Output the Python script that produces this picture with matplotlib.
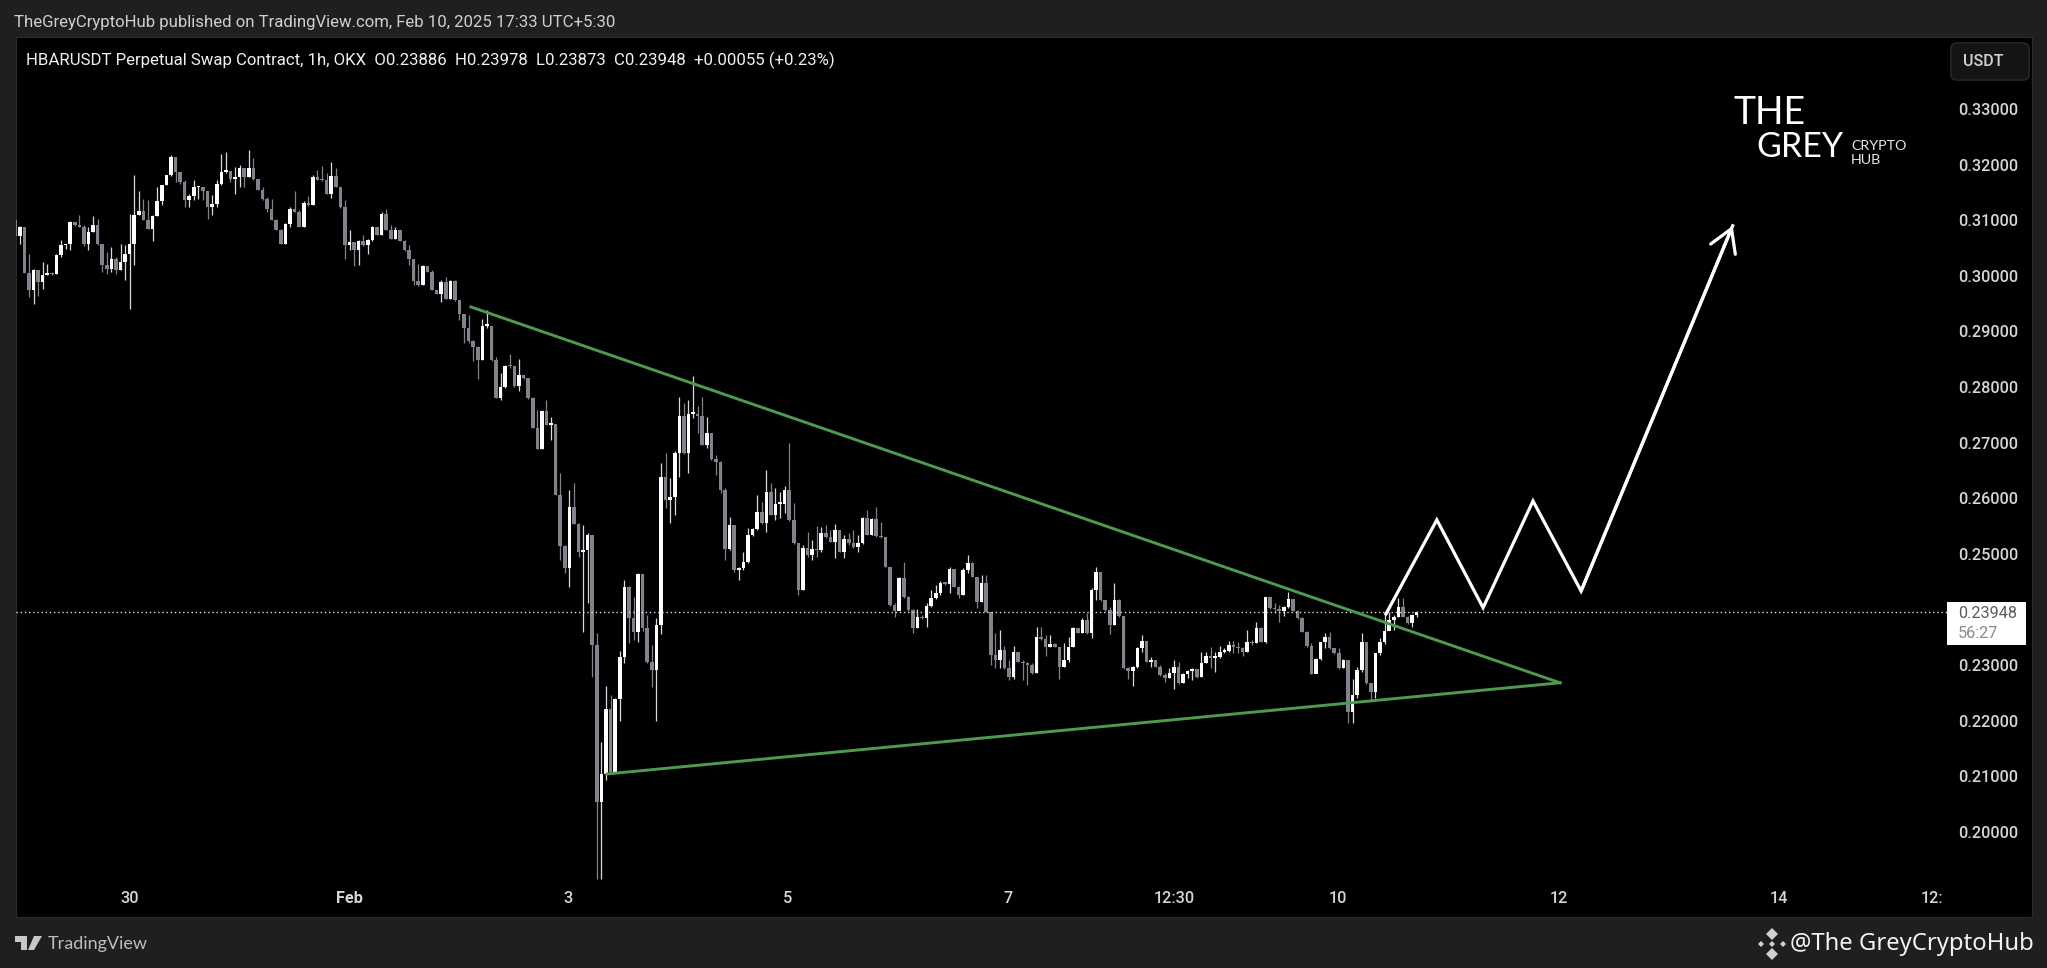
import matplotlib
matplotlib.use('Agg')
import matplotlib.pyplot as plt
import numpy as np
from matplotlib.patches import FancyBboxPatch, Polygon

plt.rcParams['font.family'] = ['Roboto', 'DejaVu Sans']

W, H = 2047, 968

# hourly candles, prices in USDT
first_open = 0.3100
closes = [
.3072,.3088,.3005,.2974,.3010,.2989,.3002,.3005,.3003,.3037,.3055,.3057,.3097,.3091,.3088,.3058,.3079,.3091,.3058,.3019,
.3013,.3031,.3010,.3024,.3039,.3057,.3110,.3116,.3101,.3085,.3108,.3135,.3163,.3181,.3213,.3187,.3169,.3137,.3144,.3159,
.3159,.3152,.3123,.3129,.3165,.3187,.3189,.3175,.3177,.3193,.3177,.3193,.3174,.3155,.3139,.3121,.3101,.3083,.3058,.3094,
.3121,.3115,.3088,.3131,.3127,.3177,.3173,.3172,.3148,.3179,.3160,.3123,.3055,.3061,.3046,.3063,.3055,.3064,.3088,.3074,
.3112,.3083,.3067,.3082,.3063,.3046,.3030,.2991,.2983,.3017,.3007,.2975,.2968,.2989,.2959,.2991,.2956,.2931,.2906,.2882,
.2872,.2849,.2910,.2910,.2849,.2781,.2800,.2838,.2837,.2801,.2822,.2816,.2780,.2727,.2689,.2757,.2732,.2733,.2606,.2514,
.2475,.2585,.2554,.2504,.2507,.2533,.2336,.2054,.2104,.2220,.2108,.2238,.2314,.2440,.2384,.2360,.2464,.2366,.2306,.2291,
.2372,.2639,.2597,.2603,.2682,.2748,.2681,.2752,.2752,.2747,.2696,.2717,.2670,.2665,.2615,.2508,.2552,.2471,.2475,.2486,
.2534,.2544,.2575,.2555,.2612,.2570,.2590,.2590,.2615,.2560,.2519,.2434,.2510,.2498,.2508,.2507,.2538,.2530,.2522,.2542,
.2504,.2526,.2519,.2512,.2519,.2564,.2534,.2562,.2532,.2530,.2477,.2408,.2398,.2456,.2422,.2399,.2366,.2386,.2384,.2406,
.2420,.2429,.2447,.2446,.2472,.2441,.2426,.2471,.2483,.2459,.2414,.2447,.2396,.2318,.2309,.2327,.2294,.2279,.2323,.2306,
.2303,.2300,.2285,.2350,.2346,.2333,.2338,.2333,.2297,.2309,.2333,.2366,.2358,.2381,.2357,.2435,.2468,.2417,.2399,.2372,
.2417,.2388,.2294,.2290,.2297,.2330,.2344,.2306,.2309,.2297,.2282,.2276,.2286,.2297,.2267,.2284,.2290,.2292,.2278,.2304,
.2316,.2313,.2314,.2324,.2326,.2336,.2333,.2330,.2324,.2342,.2339,.2366,.2342,.2422,.2402,.2400,.2398,.2404,.2418,.2398,
.2384,.2360,.2334,.2284,.2310,.2341,.2350,.2330,.2321,.2294,.2309,.2216,.2246,.2291,.2342,.2267,.2252,.2321,.2342,.2362,
.2381,.2387,.2404,.2387,.2375,.2390,.2395]
highs = [
.3118,.3089,.3088,.3040,.3013,.3010,.3025,.3022,.3007,.3039,.3065,.3058,.3098,.3097,.3109,.3091,.3088,.3107,.3103,.3058,
.3043,.3051,.3034,.3058,.3055,.3112,.3181,.3153,.3139,.3136,.3109,.3160,.3164,.3182,.3217,.3211,.3185,.3172,.3148,.3172,
.3161,.3160,.3152,.3145,.3172,.3219,.3223,.3189,.3196,.3200,.3194,.3227,.3211,.3174,.3160,.3142,.3139,.3103,.3085,.3095,
.3124,.3152,.3118,.3135,.3144,.3181,.3190,.3197,.3184,.3204,.3193,.3160,.3136,.3083,.3061,.3064,.3073,.3067,.3089,.3085,
.3115,.3121,.3091,.3088,.3083,.3064,.3055,.3031,.3022,.3019,.3017,.3010,.2975,.2992,.2998,.2993,.2992,.2956,.2932,.2930,
.2884,.2874,.2922,.2939,.2910,.2854,.2826,.2840,.2859,.2838,.2851,.2822,.2816,.2782,.2759,.2759,.2776,.2746,.2734,.2646,
.2516,.2615,.2627,.2555,.2552,.2537,.2533,.2358,.2162,.2262,.2246,.2240,.2326,.2453,.2442,.2422,.2466,.2464,.2390,.2336,
.2384,.2663,.2682,.2637,.2684,.2782,.2771,.2777,.2819,.2766,.2782,.2746,.2717,.2678,.2667,.2618,.2567,.2552,.2477,.2504,
.2546,.2546,.2606,.2594,.2651,.2627,.2618,.2612,.2622,.2699,.2591,.2520,.2516,.2540,.2525,.2550,.2549,.2552,.2543,.2554,
.2542,.2534,.2537,.2543,.2534,.2567,.2578,.2564,.2584,.2558,.2530,.2477,.2411,.2459,.2486,.2424,.2400,.2400,.2390,.2411,
.2434,.2443,.2451,.2448,.2477,.2471,.2442,.2474,.2498,.2486,.2459,.2462,.2462,.2396,.2357,.2363,.2334,.2309,.2334,.2324,
.2309,.2306,.2303,.2369,.2369,.2354,.2354,.2339,.2333,.2339,.2351,.2368,.2366,.2384,.2393,.2438,.2477,.2468,.2417,.2405,
.2447,.2418,.2388,.2296,.2298,.2333,.2354,.2344,.2315,.2309,.2300,.2286,.2294,.2309,.2306,.2285,.2291,.2294,.2292,.2324,
.2324,.2332,.2324,.2334,.2330,.2344,.2344,.2342,.2333,.2363,.2345,.2378,.2368,.2423,.2422,.2411,.2408,.2406,.2432,.2418,
.2399,.2386,.2361,.2340,.2312,.2342,.2357,.2360,.2330,.2330,.2310,.2309,.2274,.2297,.2357,.2342,.2267,.2322,.2348,.2393,
.2396,.2390,.2420,.2420,.2388,.2392,.2398]
lows = [
.3070,.3058,.3005,.2962,.2950,.2964,.2977,.3001,.3002,.3003,.3034,.3049,.3046,.3089,.3087,.3054,.3047,.3079,.3055,.3007,
.3004,.3007,.3004,.3010,.2992,.2941,.3019,.3109,.3100,.3084,.3062,.3107,.3127,.3163,.3180,.3169,.3166,.3123,.3123,.3137,
.3139,.3137,.3103,.3109,.3123,.3163,.3184,.3169,.3148,.3160,.3160,.3177,.3172,.3154,.3137,.3115,.3100,.3082,.3057,.3058,
.3088,.3114,.3087,.3088,.3125,.3127,.3172,.3171,.3147,.3140,.3159,.3122,.3031,.3047,.3017,.3019,.3054,.3039,.3063,.3073,
.3073,.3082,.3066,.3067,.3062,.3045,.3019,.2983,.2982,.2983,.3006,.2974,.2967,.2953,.2958,.2959,.2955,.2920,.2880,.2880,
.2846,.2815,.2849,.2906,.2846,.2780,.2777,.2798,.2834,.2800,.2792,.2814,.2778,.2726,.2688,.2689,.2731,.2705,.2605,.2488,
.2465,.2440,.2553,.2494,.2360,.2412,.2279,.1916,.1916,.2093,.2105,.2106,.2200,.2303,.2339,.2345,.2342,.2362,.2304,.2261,
.2200,.2356,.2582,.2555,.2570,.2639,.2680,.2646,.2744,.2717,.2695,.2690,.2669,.2642,.2609,.2489,.2507,.2468,.2453,.2471,
.2483,.2532,.2543,.2554,.2540,.2569,.2561,.2564,.2573,.2559,.2518,.2426,.2434,.2495,.2489,.2495,.2504,.2528,.2521,.2492,
.2503,.2492,.2516,.2510,.2504,.2518,.2533,.2533,.2531,.2528,.2476,.2407,.2387,.2399,.2421,.2398,.2357,.2366,.2382,.2369,
.2405,.2418,.2426,.2443,.2429,.2440,.2420,.2426,.2466,.2458,.2402,.2414,.2395,.2300,.2294,.2294,.2293,.2273,.2274,.2305,
.2273,.2264,.2284,.2285,.2345,.2316,.2332,.2332,.2274,.2297,.2306,.2332,.2357,.2358,.2356,.2348,.2417,.2416,.2398,.2356,
.2372,.2387,.2293,.2274,.2262,.2294,.2324,.2305,.2297,.2296,.2281,.2270,.2276,.2256,.2266,.2267,.2276,.2273,.2277,.2278,
.2303,.2294,.2288,.2312,.2322,.2324,.2322,.2322,.2316,.2324,.2336,.2339,.2341,.2340,.2401,.2393,.2378,.2388,.2402,.2397,
.2383,.2359,.2333,.2283,.2286,.2309,.2330,.2329,.2320,.2293,.2294,.2195,.2195,.2240,.2288,.2266,.2237,.2240,.2318,.2338,
.2363,.2363,.2386,.2386,.2374,.2368,.2387]

last_price = 0.23948
price_ticks = [0.20, 0.21, 0.22, 0.23, 0.24, 0.25, 0.26, 0.27, 0.28, 0.29, 0.30, 0.31, 0.32, 0.33]
hidden_price_ticks = [0.24]
date_ticks = [25, 73, 120.6, 168.6, 216.7, 253, 288.7, 337, 385, 418.5]
date_labels = ['30', 'Feb', '3', '5', '7', '12:30', '10', '12', '14', '12:']

# drawings: hour index, price
upper_x, upper_y = [99.5, 337.3], [0.2944, 0.2268]
lower_x, lower_y = [129.2, 337.3], [0.2104, 0.2268]
path_x = [299.3, 310.4, 320.5, 331.4, 341.9, 375.0]
path_y = [0.2392, 0.2561, 0.2403, 0.2595, 0.2433, 0.3090]

closes = np.array(closes)
highs = np.array(highs)
lows = np.array(lows)
opens = np.r_[first_open, closes[:-1]]
idx = np.arange(len(closes))
up = closes >= opens

BG = '#1f1f1f'
UP = '#ffffff'
DOWN = '#82828c'
GREEN = '#4f9a4f'
TXT = '#d6d6d6'

fig = plt.figure(figsize=(W / 100, H / 100), dpi=100, facecolor=BG)


def fx(px):
    return px / W


def fy(py):
    return 1 - py / H


L, R, T, B = 16, 2032, 37, 917
ax = fig.add_axes([fx(L), fy(B), (R - L) / W, (B - T) / H], facecolor='black')
ax.set_xlim((L - 15.2) / 4.58, (R - 15.2) / 4.58)
ax.set_ylim(0.33 - (B - 109) / 5560, 0.33 - (T - 109) / 5560)

ax.vlines(idx[up], lows[up], highs[up], color='#d8d8d8', lw=0.9, zorder=2)
ax.vlines(idx[~up], lows[~up], highs[~up], color=DOWN, lw=0.9, zorder=2)
body = np.maximum(np.abs(closes - opens), 0.00025)
bottoms = np.minimum(closes, opens)
ax.bar(idx[~up], body[~up], bottom=bottoms[~up], width=0.78, color=DOWN, zorder=3)
ax.bar(idx[up], body[up], bottom=bottoms[up], width=0.78, color=UP, zorder=3)

ax.axhline(last_price, xmax=(1947 - L) / (R - L), color='#e0e0e0', lw=1, ls=(0, (1, 2)), zorder=4)
ax.plot(upper_x, upper_y, color=GREEN, lw=2.1, zorder=5)
ax.plot(lower_x, lower_y, color=GREEN, lw=2.1, zorder=5)
ax.plot(path_x, path_y, color='white', lw=2.3, zorder=6, solid_joinstyle='miter')
ax.annotate('', xy=(path_x[-1], path_y[-1]), xytext=(path_x[-2], path_y[-2]),
            arrowprops=dict(arrowstyle='->,head_length=1.0,head_width=0.6', color='white', lw=2.3,
                            mutation_scale=16, shrinkA=0, shrinkB=0), zorder=6)

ax.yaxis.tick_right()
ax.set_yticks(price_ticks)
ax.set_yticklabels(['' if p in hidden_price_ticks else '%.5f' % p for p in price_ticks], ha='right', fontweight='medium')
ax.tick_params(axis='y', length=0, pad=-10, labelsize=11.7, labelcolor=TXT)
ax.set_xticks(date_ticks)
ax.set_xticklabels(date_labels, va='center', fontweight='medium')
ax.tick_params(axis='x', length=0, pad=-13, labelsize=11.7, labelcolor=TXT)
ax.get_xticklabels()[1].set_fontweight('bold')
for s in ax.spines.values():
    s.set_color('#2c2c2c')

# header
fig.text(fx(14), fy(22), 'TheGreyCryptoHub published on TradingView.com, Feb 10, 2025 17:33 UTC+5:30',
         color='#cfcfcf', fontsize=12.1, va='center')
fig.text(fx(26), fy(60), 'HBARUSDT Perpetual Swap Contract, 1h, OKX  O0.23886  H0.23978  L0.23873  C0.23948  +0.00055 (+0.23%)',
         color='#f0f0f0', fontsize=12.1, va='center')

# currency button
fig.add_artist(FancyBboxPatch((fx(1955), fy(76)), 70 / W, 29 / H, boxstyle='round,pad=0.002,rounding_size=0.003',
                              transform=fig.transFigure, fc='#141414', ec='#2b2b2b', lw=1, mutation_aspect=W / H))
fig.text(fx(1983), fy(62), 'USDT', color='#cfcfcf', fontsize=11.5, fontweight='medium', ha='center', va='center')

# last price tag
fig.add_artist(plt.Rectangle((fx(1947), fy(645)), 79 / W, 43 / H, transform=fig.transFigure, fc='white', ec='none'))
fig.text(fx(1958), fy(613), '0.23948', color='#5a5a5a', fontsize=11.7, va='center')
fig.text(fx(1958), fy(634), '56:27', color='#8a8a8a', fontsize=11.7, va='center')

# logo
fig.text(fx(1733), fy(113), 'THE', color='white', family='Lato', fontsize=27, va='center')
fig.text(fx(1756), fy(147), 'GREY', color='white', family='Lato', fontsize=24.5, va='center')
fig.text(fx(1851), fy(146), 'CRYPTO', color='#e8e8e8', family='Lato', fontsize=10.3, va='center')
fig.text(fx(1851), fy(160), 'HUB', color='#e8e8e8', family='Lato', fontsize=10.3, va='center')

# footer
fig.add_artist(Polygon([[fx(15), fy(936)], [fx(27), fy(936)], [fx(27), fy(950)], [fx(21), fy(950)], [fx(21), fy(942)], [fx(15), fy(942)]],
                       closed=True, transform=fig.transFigure, fc='#c8c8c8', ec='none'))
fig.add_artist(Polygon([[fx(34), fy(936)], [fx(42), fy(936)], [fx(34), fy(950)], [fx(28), fy(950)]],
                       closed=True, transform=fig.transFigure, fc='#c8c8c8', ec='none'))
fig.text(fx(48), fy(944), 'TradingView', color='#bdbdbd', family='Lato', fontsize=13, va='center')
for cx, cy, r in [(1772, 934, 6), (1772, 954, 6), (1761, 944, 3), (1783, 944, 3), (1772, 944, 3)]:
    fig.add_artist(Polygon([[fx(cx - r), fy(cy)], [fx(cx), fy(cy - r)], [fx(cx + r), fy(cy)], [fx(cx), fy(cy + r)]],
                           closed=True, transform=fig.transFigure, fc='#d0d0d0', ec='none'))
fig.text(fx(1790), fy(944), '@The GreyCryptoHub', color='#f2f2f2', family='Noto Sans', fontsize=17.2, va='center')

fig.savefig('out.png', dpi=100, facecolor=BG)
